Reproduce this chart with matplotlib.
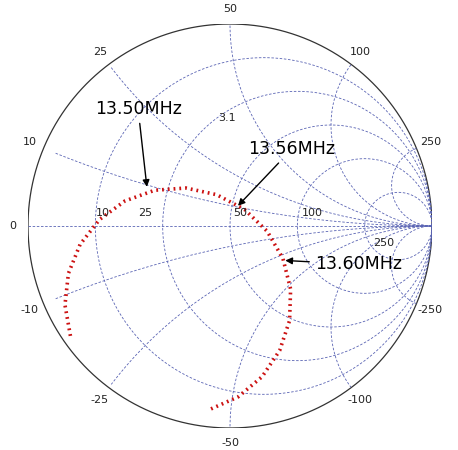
import numpy as np
import matplotlib
matplotlib.use("Agg")
import matplotlib.pyplot as plt

# normalized grid values (Z0 = 50 ohm) and their ohm labels
r_values = [0.2, 0.5, 1.0, 2.0, 5.0]
x_values = [0.2, 0.5, 1.0, 2.0, 5.0]
ohm_labels = ["10", "25", "50", "100", "250"]

gamma_re = [-0.790, -0.817, -0.800, -0.742, -0.646, -0.520, -0.373, -0.218, -0.066,
            0.072, 0.184, 0.262, 0.300, 0.295, 0.246, 0.159, 0.040, -0.102]
gamma_im = [-0.544, -0.391, -0.235, -0.091, 0.032, 0.124, 0.177, 0.188, 0.155,
            0.082, -0.026, -0.161, -0.312, -0.468, -0.616, -0.746, -0.846, -0.909]

# annotations: label, text position, arrow tip (gamma plane)
notes = [("13.50MHz", (-0.67, 0.58), (-0.41, 0.18)),
         ("13.56MHz", (0.09, 0.38), (0.03, 0.09)),
         ("13.60MHz", (0.42, -0.19), (0.26, -0.17))]

grid_col = "#5a64b4"
fig = plt.figure(figsize=(4.58, 4.5), dpi=100)
ax = fig.add_axes([28 / 458, 22 / 450, 404 / 458, 404 / 450])
ax.set_xlim(-1, 1)
ax.set_ylim(-1, 1)
ax.axis("off")

t = np.linspace(0, 2 * np.pi, 400)
ax.plot(np.cos(t), np.sin(t), color="#333333", lw=0.9)
ax.plot([-1, 1], [0, 0], color=grid_col, lw=0.6, ls=(0, (3, 2)))

for r in r_values:
    c, rad = r / (1 + r), 1 / (1 + r)
    ax.plot(c + rad * np.cos(t), rad * np.sin(t), color=grid_col, lw=0.6, ls=(0, (3, 2)))

for x in x_values:
    for s in (1, -1):
        xs = s * x
        pts = 1 + 1j / xs + (1 / x) * np.exp(1j * t)
        inside = np.abs(pts) <= 1.0005
        pts = np.where(inside, pts, np.nan)
        ax.plot(pts.real, pts.imag, color=grid_col, lw=0.6, ls=(0, (3, 2)))

# outer reactance labels
for x, lab in zip(x_values, ohm_labels):
    for s, pre in ((1, ""), (-1, "-")):
        g = (1j * s * x - 1) / (1j * s * x + 1)
        p = g / abs(g) * 1.075
        ax.text(p.real, p.imag, pre + lab, ha="center", va="center", fontsize=8, color="#222222")
ax.text(-1.075, 0, "0", ha="center", va="center", fontsize=8, color="#222222")

# inner resistance labels
inner_pos = [(-0.63, 0.064), (-0.42, 0.064), (0.05, 0.064), (0.41, 0.064), (0.76, -0.084)]
for (px, py), lab in zip(inner_pos, ohm_labels):
    ax.text(px, py, lab, ha="center", va="center", fontsize=8, color="#222222")
ax.text(-0.015, 0.535, "3.1", ha="center", va="center", fontsize=8, color="#222222")

ax.plot(gamma_re, gamma_im, color="#cc1111", lw=2.6, ls=(0, (0.5, 1.1)))

for lab, tp, tip in notes:
    ax.annotate(lab, xy=tip, xytext=tp, fontsize=12.5, ha="left", va="center",
                arrowprops=dict(arrowstyle="-|>", color="black", lw=1, mutation_scale=10))

fig.savefig("out.png", dpi=100)
